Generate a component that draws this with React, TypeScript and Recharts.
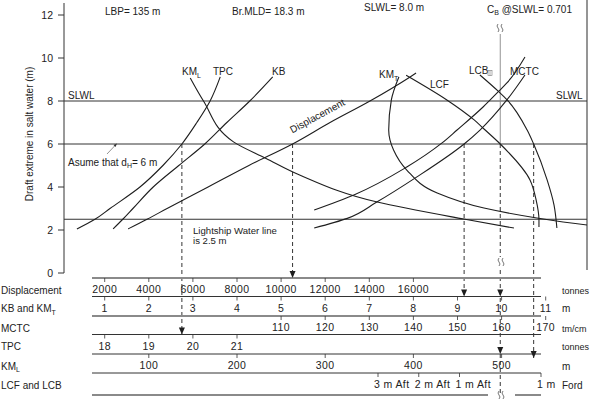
import { ComposedChart, Line, XAxis, YAxis, ReferenceLine, ReferenceDot } from "recharts";

const FONT = "'Liberation Sans', Arial, Helvetica, sans-serif";
const INK = "#1e1e1e";

// Curves: draft d (m) against the value v in the curve's own scale
const tpcCurve = [
  { d: 2.05, v: 17.37 }, { d: 2.5, v: 17.78 }, { d: 3.0, v: 18.12 }, { d: 4.0, v: 18.8 },
  { d: 5.0, v: 19.32 }, { d: 6.0, v: 19.75 }, { d: 7.0, v: 20.09 }, { d: 8.0, v: 20.39 },
  { d: 9.12, v: 20.62 },
];
const kbCurve = [
  { d: 2.05, v: 1.19 }, { d: 2.5, v: 1.41 }, { d: 3.0, v: 1.64 }, { d: 4.0, v: 2.1 },
  { d: 5.0, v: 2.68 }, { d: 6.0, v: 3.27 }, { d: 7.0, v: 3.77 }, { d: 8.0, v: 4.29 },
  { d: 9.12, v: 4.81 },
];
const kmtCurve = [
  { d: 2.12, v: 12.4 }, { d: 2.23, v: 11.94 }, { d: 2.56, v: 10.8 }, { d: 3.02, v: 9.6 },
  { d: 3.72, v: 8.54 }, { d: 4.79, v: 7.85 }, { d: 5.72, v: 7.55 }, { d: 6.65, v: 7.44 },
  { d: 8.05, v: 7.5 }, { d: 9.12, v: 7.67 },
];
const kmlCurve = [
  { d: 2.09, v: 514 }, { d: 2.51, v: 457 }, { d: 3.3, v: 359 }, { d: 4.56, v: 271 },
  { d: 5.33, v: 233 }, { d: 6.1, v: 196 }, { d: 8.0, v: 162 }, { d: 9.07, v: 147 },
];
const displacementCurve = [
  { d: 2.05, v: 3060 }, { d: 2.5, v: 3920 }, { d: 3.0, v: 4830 }, { d: 4.0, v: 6690 },
  { d: 5.0, v: 8540 }, { d: 6.0, v: 10520 }, { d: 7.0, v: 12220 }, { d: 8.0, v: 14030 },
  { d: 9.12, v: 15850 }, { d: 9.3, v: 16120 },
];
const mctcCurve = [
  { d: 2.09, v: 117.5 }, { d: 2.54, v: 125.0 }, { d: 3.3, v: 131.7 }, { d: 4.47, v: 140.8 },
  { d: 6.0, v: 151.5 }, { d: 6.65, v: 155.1 }, { d: 8.05, v: 161.2 }, { d: 9.21, v: 165.3 },
];
// second, unlabelled curve running parallel to MCTC
const upperCurve = [
  { d: 2.93, v: 117.5 }, { d: 3.63, v: 126.5 }, { d: 4.93, v: 138.5 }, { d: 6.05, v: 146.5 },
  { d: 6.65, v: 149.9 }, { d: 7.72, v: 155.8 }, { d: 8.42, v: 159.2 }, { d: 8.84, v: 161.2 },
  { d: 10.05, v: 165.3 },
];
const lcfCurve = [
  { d: 2.14, v: 0.95 }, { d: 2.47, v: 0.95 }, { d: 3.4, v: 0.88 }, { d: 4.33, v: 0.73 },
  { d: 6.0, v: 0.0 }, { d: 6.65, v: -0.37 }, { d: 7.12, v: -0.64 }, { d: 8.05, v: -1.31 },
  { d: 9.2, v: -2.31 },
];
const lcbCurve = [
  { d: 2.09, v: 1.39 }, { d: 3.16, v: 1.32 }, { d: 4.33, v: 1.15 }, { d: 6.0, v: 0.82 },
  { d: 6.65, v: 0.66 }, { d: 8.05, v: 0.17 }, { d: 8.42, v: -0.03 }, { d: 9.21, v: -0.5 },
];

// scale rows below the chart
const displacementTicks = [2000, 4000, 6000, 8000, 10000, 12000, 14000, 16000];
const kbTicks = [1, 2, 3, 4, 5, 6, 7, 8, 9, 10, 11];
const mctcTicks = [110, 120, 130, 140, 150, 160, 170];
const tpcTicks = [18, 19, 20, 21];
const kmlTicks = [100, 200, 300, 400, 500];
const lcfTicks = [-3, -2, -1, 1];
const lcfTickLabels = ["3 m Aft", "2 m Aft", "1 m Aft", "1 m"];
const rowUnits = ["tonnes", "m", "tm/cm", "tonnes", "m", "Ford"];

const draftTicks = [0, 2, 4, 6, 8, 10, 12];
const SLWL = 8;
const ASSUMED_DRAFT = 6;
const LIGHTSHIP = 2.5;

// axis ids; recharts stacks the bottom axes in id order
const AX = {
  disp: "a-disp",
  kb: "b-kb",
  mctc: "c-mctc",
  tpc: "d-tpc",
  kml: "e-kml",
  lcf: "f-lcf",
  close: "g-close",
};

// values read at the assumed 6 m draft, and the scale rows the arrows drop to
const readingsAt6m = [
  { axis: AX.disp, value: 10520, rows: [0], nudge: 0, toBottom: false },
  { axis: AX.tpc, value: 19.75, rows: [3], nudge: 0, toBottom: false },
  { axis: AX.mctc, value: 151.5, rows: [1], nudge: 0, toBottom: false },
  { axis: AX.lcf, value: 0, rows: [1, 4], nudge: 0, toBottom: true },
  { axis: AX.lcf, value: 0.82, rows: [4], nudge: 4, toBottom: false },
];

// ---- layout ----
const W = 597;
const H = 400;
const PLOT_LEFT = 64;
const PLOT_RIGHT = 587;
const PLOT_TOP = 3;
const Y_ZERO_PX = 273;
const PX_PER_M = 21.5;
const ROW_LINES = [278, 296.5, 316, 334.5, 354, 373, 395];
const Y_MIN = (Y_ZERO_PX - ROW_LINES[0]) / PX_PER_M;
const Y_MAX = (Y_ZERO_PX - PLOT_TOP) / PX_PER_M;
const pxToDraft = (px: number) => (Y_ZERO_PX - px) / PX_PER_M;

// the scale rows share one tick grid
const gridAt = (i: number) => 104.7 + 44.1 * i;
const domainFrom = (v0: number, p0: number, v1: number, p1: number): [number, number] => {
  const k = (v1 - v0) / (p1 - p0);
  return [v0 - (p0 - PLOT_LEFT) * k, v0 + (PLOT_RIGHT - p0) * k];
};

const rowLine = (thick: boolean, dash = "0 28 449 200") => ({
  stroke: thick ? "#8a8a8a" : "#333",
  strokeWidth: thick ? 1.8 : 1,
  strokeDasharray: dash,
});

const LcfTick = (props: any) => {
  const { x, y, payload } = props;
  const idx = lcfTicks.indexOf(payload.value);
  return (
    <text x={x - 4} y={y} dy="0.71em" textAnchor="start" fontSize={10.5} fill="#222" letterSpacing={0.4}>
      {lcfTickLabels[idx]}
    </text>
  );
};

const scaleRows = [
  { id: AX.disp, domain: domainFrom(2000, gridAt(0), 16000, gridAt(7)), ticks: displacementTicks, thick: true },
  { id: AX.kb, domain: domainFrom(1, gridAt(0), 11, gridAt(10)), ticks: kbTicks, thick: false },
  { id: AX.mctc, domain: domainFrom(110, gridAt(4), 170, gridAt(10)), ticks: mctcTicks, thick: true },
  { id: AX.tpc, domain: domainFrom(18, gridAt(0), 21, gridAt(3)), ticks: tpcTicks, thick: false },
  { id: AX.kml, domain: domainFrom(100, gridAt(1), 500, gridAt(9)), ticks: kmlTicks, thick: false },
  { id: AX.lcf, domain: domainFrom(-3, 378, 1, 541), ticks: lcfTicks, thick: false },
];

const curves = [
  { name: "TPC", data: tpcCurve, axis: AX.tpc },
  { name: "KB", data: kbCurve, axis: AX.kb },
  { name: "KMT", data: kmtCurve, axis: AX.kb },
  { name: "KML", data: kmlCurve, axis: AX.kml },
  { name: "Displacement", data: displacementCurve, axis: AX.disp },
  { name: "MCTC", data: mctcCurve, axis: AX.mctc },
  { name: "upper", data: upperCurve, axis: AX.mctc },
  { name: "LCF", data: lcfCurve, axis: AX.lcf },
  { name: "LCB", data: lcbCurve, axis: AX.lcf },
];

const Arrowhead = (props: any) => {
  const { cx, cy } = props;
  if (cx == null || cy == null) return <g />;
  return <path d={`M${cx - 3},${cy - 7}L${cx + 3},${cy - 7}L${cx},${cy}Z`} fill={INK} />;
};

function BreakMark({ x, y, bg = true }: { x: number; y: number; bg?: boolean }) {
  return (
    <g>
      {bg && <rect x={x - 5} y={y - 5} width={10} height={10} fill="#fff" />}
      {[-2, 2].map((dx) => (
        <path
          key={dx}
          d={`M${x + dx},${y - 4} q -2,2 0,4 q 2,2 0,4`}
          fill="none"
          stroke="#555"
          strokeWidth={0.8}
        />
      ))}
    </g>
  );
}

function Overlay() {
  const sub = (s: string) => (
    <tspan dy={2.5} fontSize={7}>
      {s}
    </tspan>
  );
  const labelBase = (i: number) => ROW_LINES[i] + 15.5;
  return (
    <svg
      width={W}
      height={H}
      style={{ position: "absolute", left: 0, top: 0, pointerEvents: "none" }}
      fontFamily={FONT}
      fontSize={10}
      fill="#222"
    >
      {/* header */}
      <text x={105} y={14.5}>LBP= 135 m</text>
      <text x={232} y={14.5}>Br.MLD= 18.3 m</text>
      <text x={364} y={11}>SLWL= 8.0 m</text>
      <text x={487} y={12.5}>
        C<tspan dy={2} fontSize={7}>B</tspan>
        <tspan dy={-2}> @SLWL= 0.701</tspan>
      </text>

      {/* axis title */}
      <text transform="translate(33,134) rotate(-90)" textAnchor="middle">
        Draft extreme in salt water (m)
      </text>

      {/* waterline notes */}
      <text x={68} y={98.5}>SLWL</text>
      <text x={556} y={98.5}>SLWL</text>
      <text x={68} y={166}>
        Asume that d<tspan dy={2} fontSize={7}>H</tspan>
        <tspan dy={-2}>= 6 m</tspan>
      </text>
      <path d="M107,154 L115.5,145" stroke="#666" strokeWidth={0.7} />
      <path d="M117,143.5 L113.5,145 L115.5,147 Z" fill="#333" />
      <text x={193} y={233.5} fontSize={9.6}>Lightship Water line</text>
      <text x={193} y={244} fontSize={9.6}>is 2.5 m</text>

      {/* curve labels */}
      <text x={182} y={75}>KM{sub("L")}</text>
      <text x={213} y={75}>TPC</text>
      <text x={272} y={75}>KB</text>
      <text x={379} y={78}>KM{sub("T")}</text>
      <text x={430} y={87.5}>LCF</text>
      <text x={469} y={73.5}>LCB</text>
      <rect x={488} y={70.5} width={4} height={5} fill="none" stroke="#777" strokeWidth={0.6} />
      <path d="M490,70.5 V75.5" stroke="#777" strokeWidth={0.6} />
      <text x={510} y={75}>MCTC</text>
      <text transform="translate(319,119) rotate(-28.5)" textAnchor="middle">
        Displacement
      </text>

      {/* scale row names and units */}
      <text x={1} y={labelBase(0)}>Displacement</text>
      <text x={1} y={labelBase(1)}>KB and KM{sub("T")}</text>
      <text x={1} y={labelBase(2)}>MCTC</text>
      <text x={1} y={labelBase(3)}>TPC</text>
      <text x={1} y={labelBase(4)}>KM{sub("L")}</text>
      <text x={1} y={labelBase(5)}>LCF and LCB</text>
      {rowUnits.map((u, i) => (
        <text key={i} x={562} y={labelBase(i)} fontSize={u.length > 2 && u !== "Ford" ? 9 : 10}>
          {u}
        </text>
      ))}

      <BreakMark x={500} y={28} bg={false} />
      <BreakMark x={501} y={262} />
      <BreakMark x={501} y={395} bg={false} />
    </svg>
  );
}

export default function App() {
  const dispDomain = scaleRows[0].domain;
  const rowHeights = ROW_LINES.slice(1).map((p, i) => p - ROW_LINES[i]);

  return (
    <div style={{ position: "absolute", left: 0, top: 0, width: W, height: H, fontFamily: FONT, background: "#fff" }}>
      <ComposedChart
        width={W}
        height={H}
        margin={{ top: PLOT_TOP, right: W - PLOT_RIGHT, bottom: H - ROW_LINES[6] - 1, left: PLOT_LEFT - 40 }}
      >
        {scaleRows.map((r, i) => (
          <XAxis
            key={r.id}
            xAxisId={r.id}
            dataKey="v"
            type="number"
            domain={r.domain}
            allowDataOverflow
            ticks={r.ticks}
            interval={0}
            height={rowHeights[i]}
            tickSize={4}
            tickMargin={4}
            axisLine={rowLine(r.thick)}
            tickLine={{ stroke: "#333", strokeWidth: 0.8 }}
            tick={r.id === AX.lcf ? <LcfTick /> : { fontSize: 10.5, fill: "#222", letterSpacing: 0.4 }}
          />
        ))}
        <XAxis
          xAxisId={AX.close}
          type="number"
          domain={[0, 1]}
          ticks={[]}
          tick={false}
          tickLine={false}
          height={1}
          axisLine={rowLine(true, "0 28 396 27 26 200")}
        />
        <YAxis
          type="number"
          domain={[Y_MIN, Y_MAX]}
          allowDataOverflow
          ticks={draftTicks}
          interval={0}
          width={40}
          axisLine={false}
          tickSize={6}
          tickMargin={5}
          tickLine={{ stroke: "#333" }}
          tick={{ fontSize: 10.5, fill: "#222" }}
        />

        {/* frame */}
        <ReferenceLine
          xAxisId={AX.disp}
          segment={[{ x: dispDomain[0], y: 0 }, { x: dispDomain[0], y: Y_MAX }]}
          stroke="#333"
          ifOverflow="visible"
        />
        <ReferenceLine
          xAxisId={AX.disp}
          segment={[{ x: dispDomain[1], y: pxToDraft(270) }, { x: dispDomain[1], y: pxToDraft(0) }]}
          stroke="#8a8a8a"
          strokeWidth={1.8}
          ifOverflow="visible"
        />

        {/* waterlines */}
        {[SLWL, ASSUMED_DRAFT, LIGHTSHIP].map((y) => (
          <ReferenceLine key={y} xAxisId={AX.disp} y={y} stroke="#333" strokeWidth={1} />
        ))}

        {/* amidships */}
        <ReferenceLine
          xAxisId={AX.lcf}
          segment={[{ x: 0, y: ASSUMED_DRAFT }, { x: 0, y: pxToDraft(34) }]}
          stroke="#888"
          strokeWidth={0.9}
          ifOverflow="visible"
        />

        {/* drop lines from the 6 m draft */}
        {readingsAt6m.map((r, i) => {
          const endPx = r.toBottom
            ? ROW_LINES[6] - 2
            : Math.max(...r.rows.map((k) => ROW_LINES[k])) + r.nudge;
          return (
            <ReferenceLine
              key={`drop${i}`}
              xAxisId={r.axis}
              segment={[{ x: r.value, y: ASSUMED_DRAFT }, { x: r.value, y: pxToDraft(endPx) }]}
              stroke={INK}
              strokeWidth={0.9}
              strokeDasharray="4 3"
              ifOverflow="visible"
            />
          );
        })}
        {readingsAt6m.flatMap((r, i) =>
          r.rows.map((k) => (
            <ReferenceDot
              key={`arrow${i}-${k}`}
              xAxisId={r.axis}
              x={r.value}
              y={pxToDraft(ROW_LINES[k] + r.nudge)}
              r={3}
              ifOverflow="visible"
              shape={Arrowhead}
            />
          ))
        )}

        {curves.map((c) => (
          <Line
            key={c.name}
            name={c.name}
            data={c.data}
            xAxisId={c.axis}
            dataKey="d"
            type="monotoneY"
            stroke={INK}
            strokeWidth={1.1}
            dot={false}
            activeDot={false}
            isAnimationActive={false}
          />
        ))}
      </ComposedChart>
      <Overlay />
    </div>
  );
}
